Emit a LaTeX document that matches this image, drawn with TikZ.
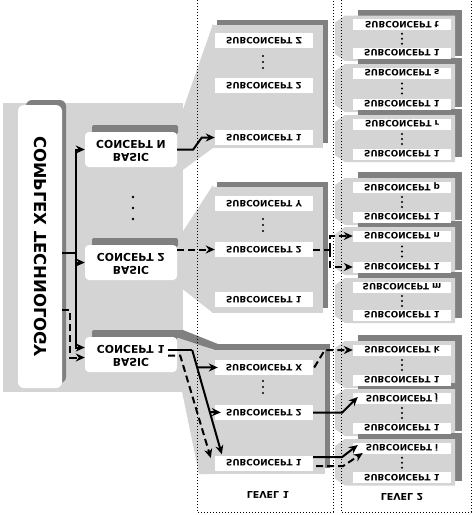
\documentclass[tikz,border=0pt]{standalone}
\usepackage{fontspec}
\setmainfont{DejaVu Sans}
\usetikzlibrary{arrows.meta,calc}
\newcommand\flp[1]{\scalebox{1}[-1]{#1}}
\definecolor{pan}{gray}{0.83}
\definecolor{shd}{gray}{0.50}
\begin{document}
\begin{tikzpicture}[x=1pt,y=-1pt,
 txt/.style={inner sep=0pt, font=\bfseries\fontsize{8.8}{9}\selectfont},
 wbox/.style={txt, fill=white},
 lone/.style={wbox, minimum width=98pt, minimum height=15pt},
 ltwo/.style={wbox, minimum width=98pt, minimum height=11pt},
 basicbox/.style={wbox, minimum width=92pt, minimum height=35pt, rounded corners=4pt, font=\bfseries\fontsize{10.8}{13}\selectfont},
 conn/.style={line width=2pt},
 arr/.style={conn, -{Stealth[length=9pt,width=8pt]}},
 dconn/.style={conn, dash pattern=on 7pt off 4pt},
 darr/.style={dconn, -{Stealth[length=9pt,width=8pt]}},
 dotcol/.style={line width=1pt, dash pattern=on 1pt off 2pt},
 dotmark/.style={fill=black}
]
\useasboundingbox (0,0) rectangle (474,515);
% left panel and links
\fill[pan] (3,103) rectangle (183,392);
\fill[pan] (180,118) -- (213,24) -- (213,148) -- (180,172) -- cycle;
\fill[pan] (180,236) -- (213,185) -- (213,313) -- (180,287) -- cycle;
\fill[pan] (178,335) -- (213,350) -- (213,474) -- (199,474) -- (178,372) -- cycle;
\fill[shd] (176,330) -- (183,330) -- (218,344) -- (218,351) -- (176,337) -- cycle;
% concept shadows
\fill[shd, rounded corners=2pt] (92,125) rectangle (178,134);
\fill[shd, rounded corners=2pt] (92,238) rectangle (178,247);
\fill[shd, rounded corners=2pt] (92,330) rectangle (178,339);
% complex technology shadow
\fill[shd, rounded corners=6pt] (26,100) rectangle (66,383);
% level 1 groups
\fill[shd] (217,20) rectangle (328,143);
\fill[pan] (212,25) rectangle (323,148);
\fill[shd] (217,182) rectangle (328,308);
\fill[pan] (212,187) rectangle (323,313);
\fill[shd] (217,344) rectangle (330,468);
\fill[pan] (212,350) rectangle (325,474);
% level 2 groups
\foreach \a/\b/\g in {24.5/53/1, 73/104/2, 124/154/3, 187/217/4, 236/267/5, 287/315/6, 350/380/7, 398/428/8, 448/477.5/9} {
  \fill[shd] (358,\a-15) rectangle (462,\b+3);
  \fill[pan] (345,\a-9) -- (455,\a-9) -- (455,\b+8) -- (345,\b+8) -- (335,\b+1) -- (335,\a-2) -- cycle;
}
% dotted level frames
\draw[dotcol] (197,0) -- (197,512) -- (333,512) -- (333,0);
\draw[dotcol] (341,0) -- (341,512) -- (471,512) -- (471,0);
% nodes
\node[wbox, rounded corners=6pt, minimum width=44pt, minimum height=283pt] (ct) at (40,246.5)
  {\rotatebox{-90}{\flp{\fontsize{16.5}{18}\selectfont COMPLEX TECHNOLOGY}}};
\node[basicbox] (bN) at (131,149.5) {\flp{\begin{tabular}{@{}c@{}}BASIC\\CONCEPT N\end{tabular}}};
\node[basicbox] (b2) at (131,262.5) {\flp{\begin{tabular}{@{}c@{}}BASIC\\CONCEPT 2\end{tabular}}};
\node[basicbox] (b1) at (131,354.5) {\flp{\begin{tabular}{@{}c@{}}BASIC\\CONCEPT 1\end{tabular}}};
\foreach \y in {197,208,219} \fill (133,\y) circle (1.3pt);
\node[lone] (nz) at (264,40.5) {\flp{SUBCONCEPT Z}};
\node[lone] (n2) at (264,85.5) {\flp{SUBCONCEPT 2}};
\node[lone] (n1) at (264,137.5) {\flp{SUBCONCEPT 1}};
\node[lone] (my) at (264,203.5) {\flp{SUBCONCEPT Y}};
\node[lone] (m2) at (264,249.5) {\flp{SUBCONCEPT 2}};
\node[lone] (m1) at (264,299.5) {\flp{SUBCONCEPT 1}};
\node[lone] (kx) at (264,367.5) {\flp{SUBCONCEPT X}};
\node[lone] (k2) at (264,412.5) {\flp{SUBCONCEPT 2}};
\node[lone] (k1) at (264,463) {\flp{SUBCONCEPT 1}};
\foreach \y in {56,62,68, 219,225,231, 381,387,393} \fill (263,\y) circle (1.2pt);
\foreach \a/\b/\ltr/\g in {24.5/53/t/1, 73/104/s/2, 124/154/r/3, 187/217/p/4, 236/267/n/5, 287/315/m/6, 350/380/k/7, 398/428/j/8, 448/477.5/i/9} {
  \node[ltwo] (ga\g) at (402,\a) {\flp{SUBCONCEPT \ltr}};
  \node[ltwo] (gb\g) at (402,\b) {\flp{SUBCONCEPT 1}};
  \foreach \t in {-5,0,5} \fill (402,{(\a+\b)/2+\t}) circle (1.1pt);
}
\node[txt, font=\bfseries\fontsize{9.5}{10}\selectfont] (lv1) at (268,495) {\flp{LEVEL 1}};
\node[txt, font=\bfseries\fontsize{9.5}{10}\selectfont] (lv2) at (402,497) {\flp{LEVEL 2}};
% connectors: complex technology -> basic concepts
\coordinate (j1) at (75.5,253);
\coordinate (j2) at (70,310);
\coordinate (b1s) at ($(b1.west)+(0,-7)$);
\coordinate (b1d) at ($(b1.west)+(0,3)$);
\draw[conn] (ct.east |- j1) -- (j1);
\draw[arr] (j1) |- (bN.west);
\draw[arr] (j1) |- (b1s);
\draw[darr] (j1 |- b2.west) -- (b2.west);
\draw[darr] (ct.east |- j2) -- (j2) |- (b1d);
% basic concepts -> level 1
\draw[arr] (bN.east) -- ++(16,0) -- ($(n1.west)+(-13,0)$) -- (n1.west);
\draw[darr] (b2.east |- m2.west) -- (m2.west);
\coordinate (d1) at ($(b1.east)+(15,-4.5)$);
\coordinate (d2) at ($(k1.north west)+(7,-1)$);
\draw[conn] ($(b1.east)+(-9,-4.5)$) -- (d1);
\draw[arr] (d1) -- (d2);
\draw[arr] ($(d1)!0.167!(d2)$) -- ($(kx.west)+(3,0)$);
\draw[arr] ($(d1)!0.595!(d2)$) -- ($(k2.west)+(6,0)$);
\coordinate (e1) at ($(b1.east)+(3,1)$);
\draw[darr] ($(b1.east)+(-9,1)$) -- (e1) -- ($(k1.west)+(-4,-5)$);
% level 1 -> level 2
\coordinate (j3) at ($(m2.east)+(17,0)$);
\draw[dconn] (m2.east) -- (j3);
\draw[darr] (j3) |- (ga5.west);
\draw[darr] (j3) |- (gb5.west);
\draw[darr] ($(kx.east)+(1,0)$) -- ($(ga7.west)+(-28,0)$) -- (ga7.west);
\draw[arr] (k2.east) -- ++(29,0) -- ($(ga8.west)+(5,-1)$);
\draw[arr] ($(k1.east)+(0,-6)$) -- ++(29,0) -- ($(ga9.west)+(5,-3)$);
\draw[darr] ($(k1.east)+(3,3)$) -- ++(27,0) -- ($(ga9.west)+(10,5)$);
\end{tikzpicture}
\end{document}
